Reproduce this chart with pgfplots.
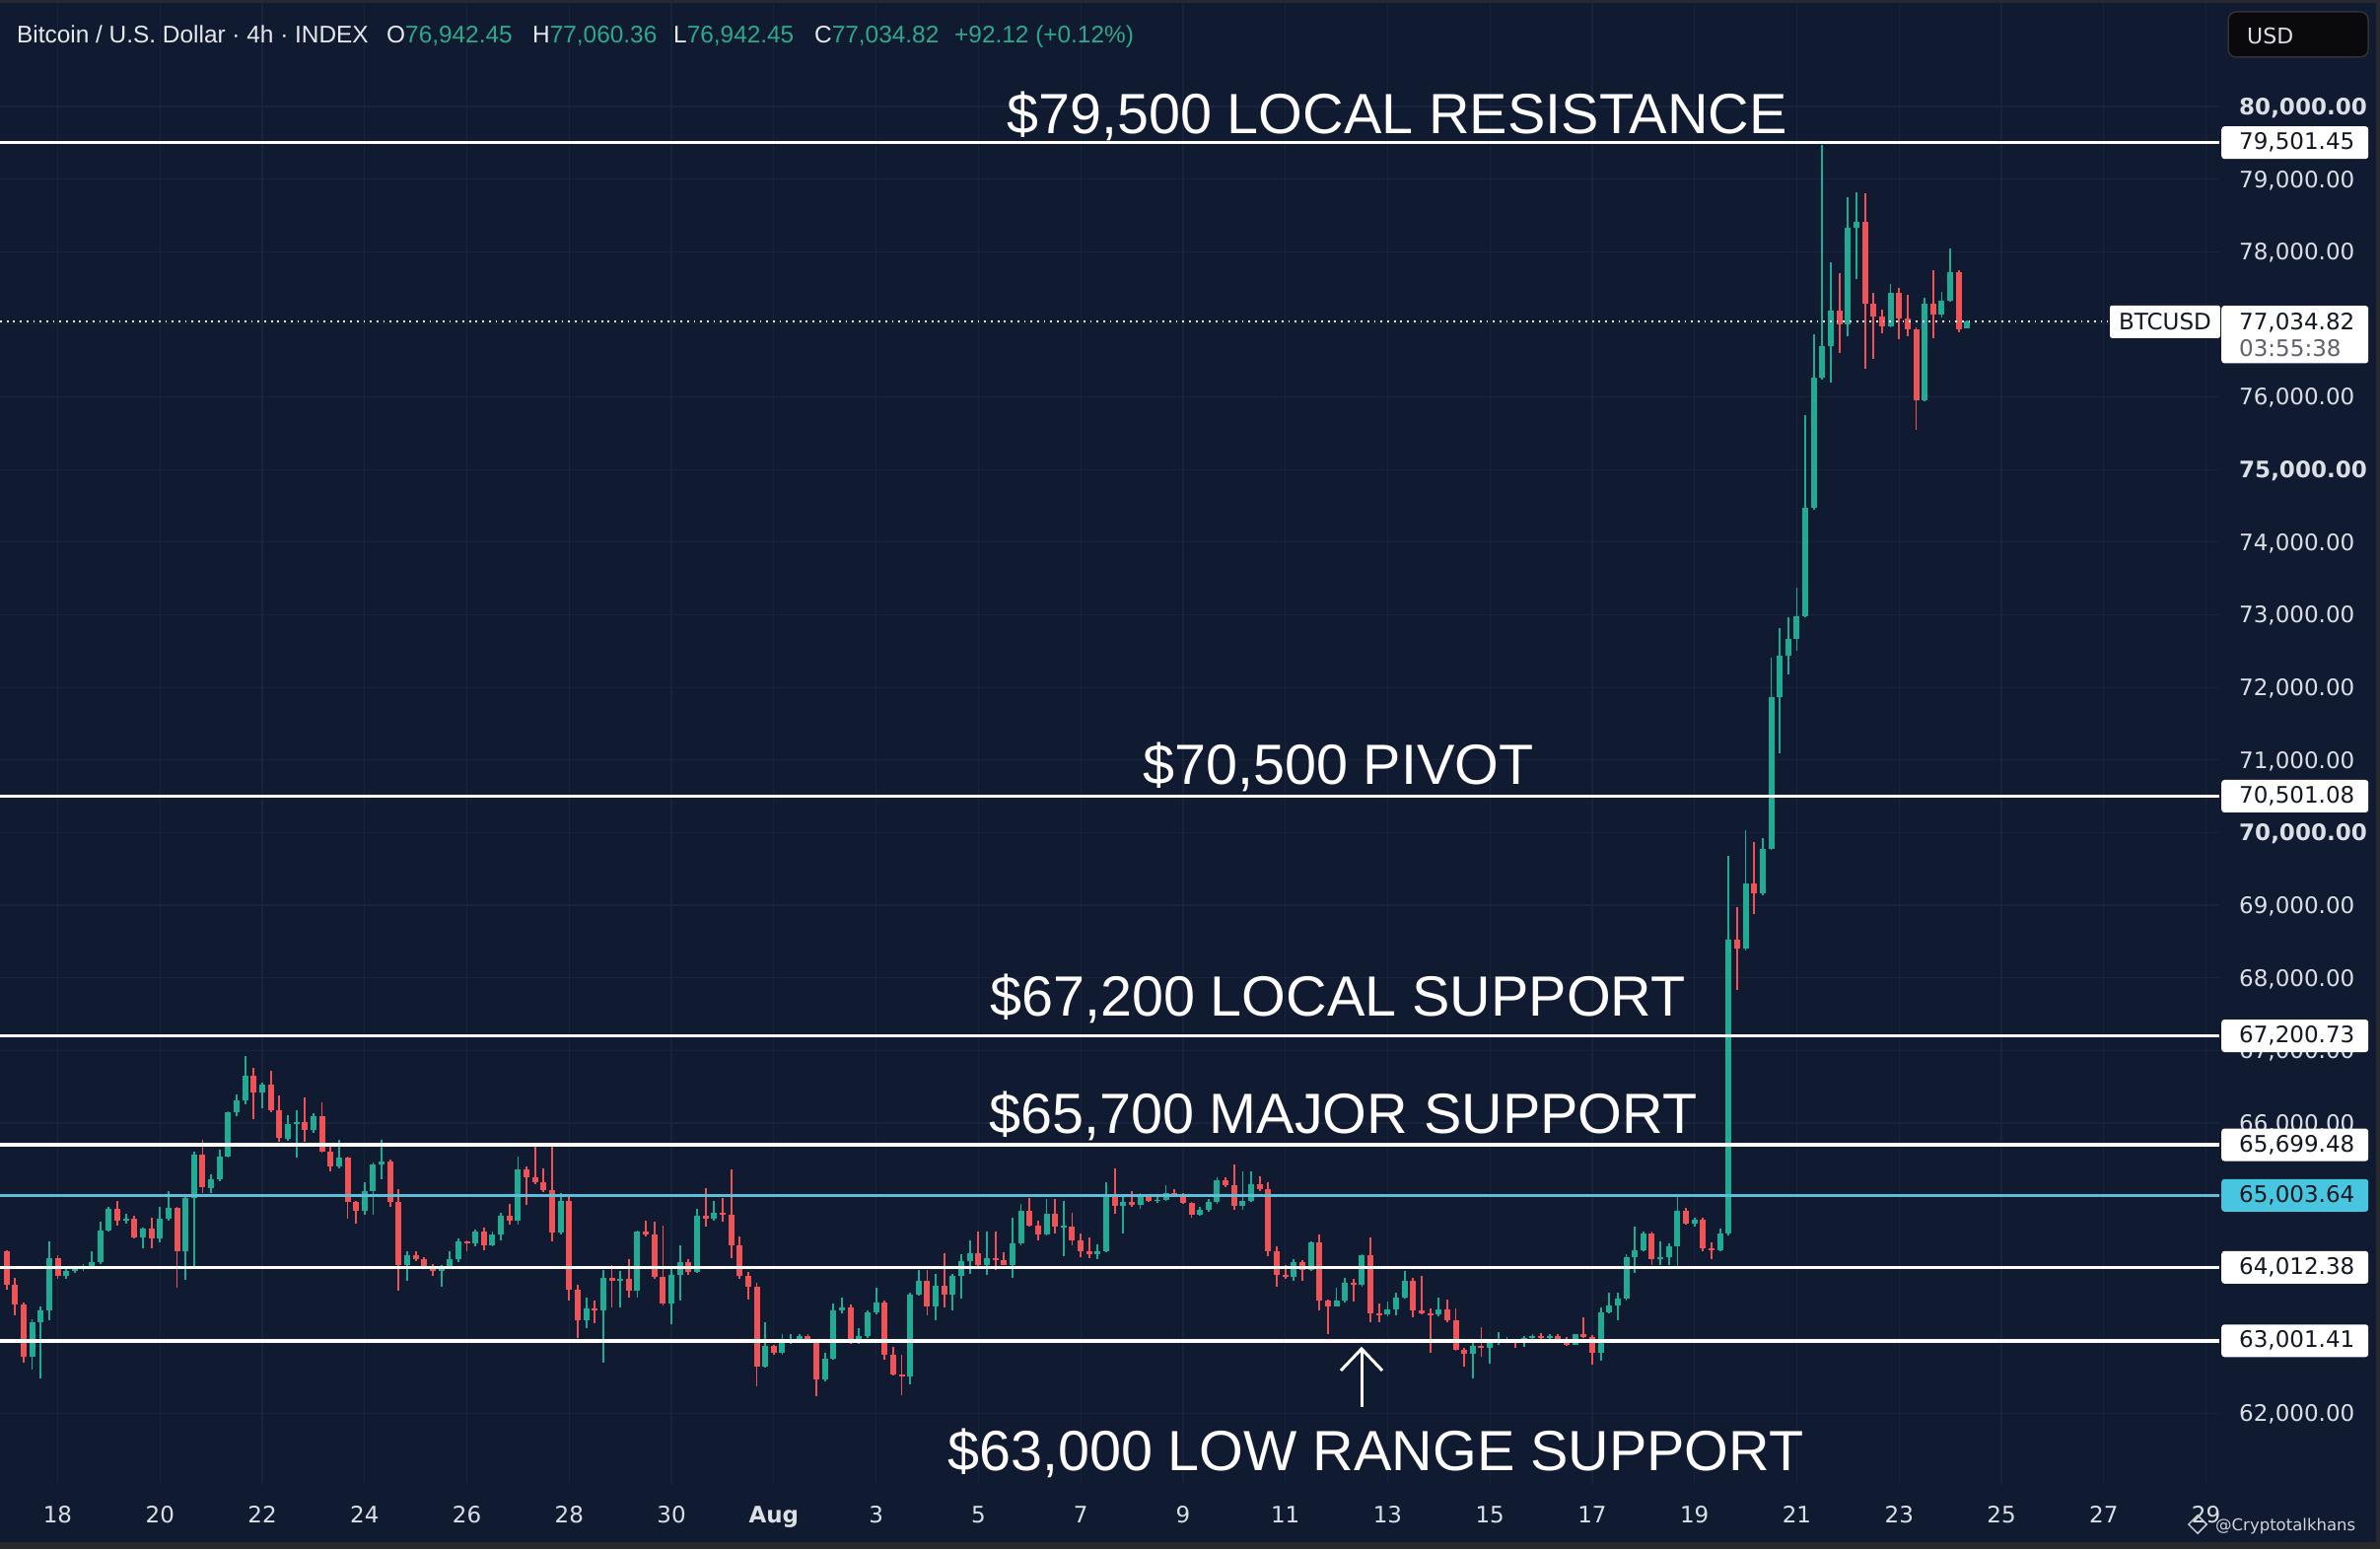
\documentclass[border=0pt]{standalone}
\usepackage{fontspec}
\usepackage{pgfplots}
\usepackage{pgfplotstable}
\pgfplotsset{compat=1.18}
\setmainfont{Liberation Sans}
\newfontfamily\dv{DejaVu Sans}
\newfontfamily\lib{Liberation Sans}
\definecolor{bgc}{RGB}{16,26,48}
\definecolor{gridc}{RGB}{24,35,60}
\definecolor{cg}{RGB}{34,171,148}
\definecolor{cr}{RGB}{240,83,85}
\definecolor{cyl}{RGB}{93,190,214}
\definecolor{cyb}{RGB}{72,198,224}
\definecolor{lbl}{RGB}{220,223,230}
\definecolor{hg}{RGB}{44,168,140}
\definecolor{framec}{RGB}{40,41,44}
\definecolor{boxtxt}{RGB}{19,23,34}
\definecolor{hdr}{RGB}{230,232,236}
\newcommand\pf{\dv\fontsize{23}{27}\selectfont}
\newcommand\annf{\lib\fontsize{57.5}{60}\selectfont}

\pgfplotstableread{
k o h l c
-6 64230 64253 63710 63778
-5 63778 63870 63349 63507
-4 63507 63530 62694 62784
-3 62784 63300 62603 63259
-2 63259 63480 62490 63417
-1 63417 64366 63280 64140
0 64140 64185 63860 63890
1 63890 64000 63860 63960
2 63960 64030 63940 63990
3 63990 64060 63960 64030
4 64030 64230 64000 64080
5 64080 64637 64060 64524
6 64524 64840 64500 64818
7 64818 64930 64590 64660
8 64660 64750 64610 64680
9 64680 64720 64410 64430
10 64430 64560 64275 64545
11 64545 64700 64275 64411
12 64411 64840 64350 64680
13 64680 65065 64660 64830
14 64830 64850 63733 64230
15 64230 64990 63846 64963
16 64963 65600 64030 65564
17 65564 65767 65040 65110
18 65110 65300 65040 65225
19 65225 65630 65200 65541
20 65541 66160 65520 66150
21 66150 66400 66100 66310
22 66310 66920 66260 66650
23 66650 66760 66060 66420
24 66420 66560 66200 66535
25 66535 66720 66150 66175
26 66175 66380 65740 65790
27 65790 66110 65760 65993
28 65993 66170 65520 66020
29 66020 66355 65740 65900
30 65900 66130 65870 66100
31 66100 66290 65590 65610
32 65610 65680 65340 65405
33 65405 65770 65380 65520
34 65520 65540 64680 64908
35 64908 64930 64610 64790
36 64790 65180 64740 65060
37 65060 65450 64730 65430
38 65430 65770 65225 65475
39 65475 65500 64840 64908
40 64908 65090 63690 64040
41 64040 64230 63830 64185
42 64185 64230 64100 64120
43 64120 64150 64000 64030
44 64030 64060 63900 63960
45 63960 64050 63750 64030
46 64030 64230 64000 64120
47 64120 64411 64090 64366
48 64366 64390 64230 64340
49 64340 64530 64300 64510
50 64510 64560 64250 64320
51 64320 64510 64300 64460
52 64460 64770 64380 64720
53 64720 64880 64600 64650
54 64650 65540 64600 65360
55 65360 65400 64870 65250
56 65250 65680 65160 65180
57 65180 65380 65050 65070
58 65070 65680 64370 64490
59 64490 65040 64470 64930
60 64930 64980 63550 63710
61 63710 63780 63035 63280
62 63280 63600 63170 63450
63 63450 63550 63250 63420
64 63420 63980 62700 63870
65 63870 64050 63460 63830
66 63830 63960 63460 63860
67 63860 64120 63600 63690
68 63690 64520 63600 64500
69 64500 64660 64440 64460
70 64460 64640 63850 63880
71 63880 64590 63490 63510
72 63510 64000 63230 63910
73 63910 64320 63550 64080
74 64080 64120 63910 63950
75 63950 64820 63930 64720
76 64720 65110 64570 64680
77 64680 64930 64650 64760
78 64760 64970 64640 64740
79 64740 65360 64140 64320
80 64320 64440 63850 63890
81 63890 63950 63570 63750
82 63750 63800 62380 62650
83 62650 63260 62630 62930
84 62930 62950 62810 62830
85 62830 63090 62810 62970
86 62970 63090 62960 63030
87 63030 63100 63010 63060
88 63060 63090 62970 63000
89 63000 63020 62240 62470
90 62470 62830 62440 62760
91 62760 63510 62740 63420
92 63420 63600 63380 63460
93 63460 63500 62960 62990
94 62990 63170 62960 63060
95 63060 63420 63040 63390
96 63390 63730 63360 63530
97 63530 63550 62740 62810
98 62810 62920 62520 62540
99 62540 62810 62250 62510
100 62510 63670 62400 63640
101 63640 63980 63620 63830
102 63830 63980 63350 63470
103 63470 63920 63280 63760
104 63760 64210 63460 63640
105 63640 63920 63420 63900
106 63900 64200 63580 64100
107 64100 64390 63920 64210
108 64210 64500 64000 64050
109 64050 64500 63910 64140
110 64140 64500 63980 64110
111 64110 64220 64040 64050
112 64050 64700 63870 64340
113 64340 64880 64320 64790
114 64790 64970 64570 64590
115 64590 64660 64390 64470
116 64470 64950 64450 64750
117 64750 64950 64480 64570
118 64570 64930 64160 64580
119 64580 64770 64320 64390
120 64390 64480 64160 64230
121 64230 64430 64140 64190
122 64190 64330 64130 64230
123 64230 65180 64220 65003
124 65003 65380 64750 64860
125 64860 65000 64480 64910
126 64910 65060 64840 64880
127 64880 65040 64820 64990
128 64990 65020 64920 64930
129 64930 64980 64900 64940
130 64940 65140 64930 65040
131 65040 65090 64990 65010
132 65010 65030 64890 64900
133 64900 64910 64690 64740
134 64740 64840 64720 64800
135 64800 64950 64780 64910
136 64910 65250 64890 65210
137 65210 65250 65120 65150
138 65150 65430 64810 64860
139 64860 65340 64800 64930
140 64930 65340 64910 65160
141 65160 65270 65060 65090
142 65090 65180 64160 64240
143 64240 64300 63750 63910
144 63910 64050 63850 63880
145 63880 64120 63830 64080
146 64080 64110 63820 63980
147 63980 64370 63960 64360
148 64360 64460 63420 63550
149 63550 63570 63100 63480
150 63480 63730 63470 63550
151 63550 63870 63530 63800
152 63800 63860 63540 63780
153 63780 64190 63740 64180
154 64180 64420 63260 63380
155 63380 63510 63260 63360
156 63360 63540 63340 63430
157 63430 63670 63350 63600
158 63600 63960 63580 63830
159 63830 63870 63330 63420
160 63420 63890 63370 63380
161 63380 63450 62830 63360
162 63360 63600 63340 63430
163 63430 63570 63250 63280
164 63280 63440 62860 62880
165 62880 62900 62650 62820
166 62820 62970 62490 62930
167 62930 63190 62780 62910
168 62910 63000 62690 62970
169 62970 63120 62950 62990
170 62990 63060 62970 63010
171 63010 63030 62910 62980
172 62980 63060 62920 63040
173 63040 63090 63020 63070
174 63070 63110 63030 63040
175 63040 63090 63020 63070
176 63070 63090 63010 63030
177 63030 63050 62930 62950
178 62950 63100 62940 63090
179 63090 63320 63040 63060
180 63060 63080 62670 62830
181 62830 63460 62730 63390
182 63390 63670 63380 63490
183 63490 63670 63280 63580
184 63580 64190 63560 64160
185 64160 64570 63930 64250
186 64250 64500 64230 64480
187 64480 64500 64050 64120
188 64120 64370 64050 64150
189 64150 64350 64040 64300
190 64300 65003 64000 64790
191 64790 64830 64600 64610
192 64610 64700 64570 64670
193 64670 64700 64230 64280
194 64280 64360 64130 64250
195 64250 64550 64240 64480
196 64480 69674 64450 68530
197 68530 68980 67830 68400
198 68400 70030 68380 69300
199 69300 69870 68880 69160
200 69160 69930 69140 69780
201 69780 72410 69760 71865
202 71865 72810 71090 72440
203 72440 72960 72180 72660
204 72660 73380 72500 72980
205 72980 75750 72960 74470
206 74470 76862 74450 76272
207 76272 79470 76240 76703
208 76703 77860 76200 77193
209 77193 77710 76610 76998
210 76998 78745 76840 78335
211 78335 78820 77630 78415
212 78415 78810 76385 77283
213 77283 77430 76520 77110
214 77110 77200 76880 76975
215 76975 77560 76960 77430
216 77430 77500 76795 77075
217 77075 77400 76840 76930
218 76930 76960 75545 75955
219 75955 77360 75940 77285
220 77285 77745 76805 77135
221 77135 77450 77100 77330
222 77330 78040 77310 77720
223 77720 77740 76885 76930
224 76942.45 77060.36 76942.45 77034.82
}\candles

\begin{document}
\begin{tikzpicture}[x=1pt,y=1pt,
  pbox/.style={fill=white, text=boxtxt, rounded corners=3pt, minimum height=33pt, text width=113pt, align=left, inner xsep=18pt, inner ysep=0pt, font=\pf, anchor=west, xshift=2pt}]
\fill[bgc] (0,0) rectangle (2414,1571);
\begin{axis}[
  at={(0pt,66pt)}, anchor=south west,
  scale only axis, width=2251pt, height=1505pt,
  xmin=-1.1276, xmax=42.26, ymin=61029.3, ymax=81466.6,
  clip=false,
  axis line style={draw=none}, major tick length=0pt,
  scaled y ticks=false,
  xmajorgrids, ymajorgrids,
  major grid style={draw=gridc, line width=1.2pt},
  xtick={0,2,...,42},
  xticklabels={18,20,22,24,26,28,30,\textbf{Aug},3,5,7,9,11,13,15,17,19,21,23,25,27,29},
  xticklabel style={anchor=base, yshift=-40pt, inner sep=0pt, font=\pf, text=lbl},
  ytick={62000,63000,64000,65000,66000,67000,68000,69000,71000,72000,73000,74000,76000,77000,78000,79000},
  extra y ticks={70000,75000,80000},
  extra y tick style={yticklabel style={font=\pf\bfseries}},
  yticklabel pos=right,
  yticklabel={\pgfmathprintnumber[fixed,fixed zerofill,precision=2,1000 sep={,},assume math mode=true]{\tick}},
  yticklabel style={anchor=base west, xshift=20pt, yshift=-8.4pt, inner sep=0pt, font=\pf, text=lbl},
]
% wicks
\addplot[draw=none, forget plot, x filter/.expression={\thisrow{c}>=\thisrow{o} ? x : nan},
  error bars/.cd, y dir=both, y explicit, error mark=none, error bar style={draw=cg, line width=1.8pt}]
  table[x expr=\thisrow{k}/6, y expr={(\thisrow{h}+\thisrow{l})/2}, y error expr={(\thisrow{h}-\thisrow{l})/2}] {\candles};
\addplot[draw=none, forget plot, x filter/.expression={\thisrow{c}<\thisrow{o} ? x : nan},
  error bars/.cd, y dir=both, y explicit, error mark=none, error bar style={draw=cr, line width=1.8pt}]
  table[x expr=\thisrow{k}/6, y expr={(\thisrow{h}+\thisrow{l})/2}, y error expr={(\thisrow{h}-\thisrow{l})/2}] {\candles};
% bodies
\addplot[draw=none, forget plot, x filter/.expression={\thisrow{c}>=\thisrow{o} ? x : nan},
  error bars/.cd, y dir=both, y explicit, error mark=none, error bar style={draw=cg, line width=6pt}]
  table[x expr=\thisrow{k}/6, y expr={(\thisrow{o}+\thisrow{c})/2}, y error expr={max(abs(\thisrow{c}-\thisrow{o})/2,9)}] {\candles};
\addplot[draw=none, forget plot, x filter/.expression={\thisrow{c}<\thisrow{o} ? x : nan},
  error bars/.cd, y dir=both, y explicit, error mark=none, error bar style={draw=cr, line width=6pt}]
  table[x expr=\thisrow{k}/6, y expr={(\thisrow{o}+\thisrow{c})/2}, y error expr={max(abs(\thisrow{c}-\thisrow{o})/2,9)}] {\candles};
% level lines
\addplot[white, line width=3.5pt] coordinates {(-1.1276,79501.45) (42.26,79501.45)};
\addplot[white, line width=3.5pt] coordinates {(-1.1276,70501.08) (42.26,70501.08)};
\addplot[white, line width=3.5pt] coordinates {(-1.1276,67200.73) (42.26,67200.73)};
\addplot[white, line width=3.5pt] coordinates {(-1.1276,65699.48) (42.26,65699.48)};
\addplot[cyl, line width=3.5pt] coordinates {(-1.1276,65003.64) (42.26,65003.64)};
\addplot[white, line width=3.5pt] coordinates {(-1.1276,64012.38) (42.26,64012.38)};
\addplot[white, line width=3.5pt] coordinates {(-1.1276,63001.41) (42.26,63001.41)};
\addplot[white, line width=1.8pt, dash pattern=on 1.8pt off 4.9pt] coordinates {(-1.1276,77034.82) (40.08,77034.82)};
% price boxes
\node[pbox] at (axis cs:42.26,79501.45) {79,501.45};
\node[pbox] at (axis cs:42.26,70501.08) {70,501.08};
\node[pbox] at (axis cs:42.26,67200.73) {67,200.73};
\node[pbox] at (axis cs:42.26,65699.48) {65,699.48};
\node[pbox, fill=cyb] at (axis cs:42.26,65003.64) {65,003.64};
\node[pbox] at (axis cs:42.26,64012.38) {64,012.38};
\node[pbox] at (axis cs:42.26,63001.41) {63,001.41};
\node[fill=white, text=boxtxt, rounded corners=3pt, text width=113pt, align=left, inner xsep=18pt, inner ysep=7pt, font=\pf, anchor=north west, xshift=2pt, yshift=16.5pt] at (axis cs:42.26,77034.82) {77,034.82\\{\color[RGB]{95,98,108}03:55:38}};
\node[fill=white, text=boxtxt, rounded corners=2pt, minimum height=33pt, inner xsep=9pt, inner ysep=0pt, font=\pf, anchor=east, xshift=1pt] at (axis cs:42.26,77034.82) {BTCUSD};
\end{axis}
% frame
\fill[framec] (0,1568) rectangle (2414,1571);
\fill[framec] (0,0) rectangle (2414,7);
\fill[framec] (2410,0) rectangle (2414,1571);
% header
\begin{scope}[every node/.style={anchor=base west, inner sep=0pt, text=hdr, font=\lib\fontsize{24.4}{28}\selectfont}]
\node at (17,1527.7) {Bitcoin / U.S. Dollar · 4h · INDEX};
\node at (392,1527.7) {O\textcolor{hg}{76,942.45}};
\node at (540,1527.7) {H\textcolor{hg}{77,060.36}};
\node at (683,1527.7) {L\textcolor{hg}{76,942.45}};
\node at (826,1527.7) {C\textcolor{hg}{77,034.82}};
\node at (968,1527.7) {\textcolor{hg}{+92.12 (+0.12\%)}};
\end{scope}
% USD button
\draw[fill={rgb,255:red,10;green,10;blue,12}, draw={rgb,255:red,48;green,50;blue,56}, rounded corners=8pt, line width=1.5pt] (2260,1513) rectangle (2402,1559);
\node[anchor=base west, inner sep=0pt, font=\dv\fontsize{22}{26}\selectfont, text=lbl] at (2279,1526) {USD};
% annotations
\begin{scope}[every node/.style={anchor=base west, inner sep=0pt, text=white, font=\annf}]
\node at (1021,1435.5) {\$79,500 LOCAL RESISTANCE};
\node at (1159,775) {\$70,500 PIVOT};
\node at (1004,540) {\$67,200 LOCAL SUPPORT};
\node at (1003,421) {\$65,700 MAJOR SUPPORT};
\node at (961,79) {\$63,000 LOW RANGE SUPPORT};
\end{scope}
\draw[white, line width=3pt] (1381,144) -- (1381,202);
\draw[white, line width=3pt, line join=miter] (1360,181) -- (1381,203) -- (1402,181);
% watermark
\node[draw={rgb,255:red,200;green,202;blue,208}, line width=1.5pt, rotate=45, minimum size=13pt, inner sep=0pt] at (2229,25) {};
\node[anchor=base west, inner sep=0pt, font=\dv\fontsize{16.5}{20}\selectfont, text={rgb,255:red,210;green,212;blue,218}] at (2247,18) {@Cryptotalkhans};
\pgfresetboundingbox
\path[use as bounding box] (0,0) rectangle (2414,1571);
\end{tikzpicture}
\end{document}
